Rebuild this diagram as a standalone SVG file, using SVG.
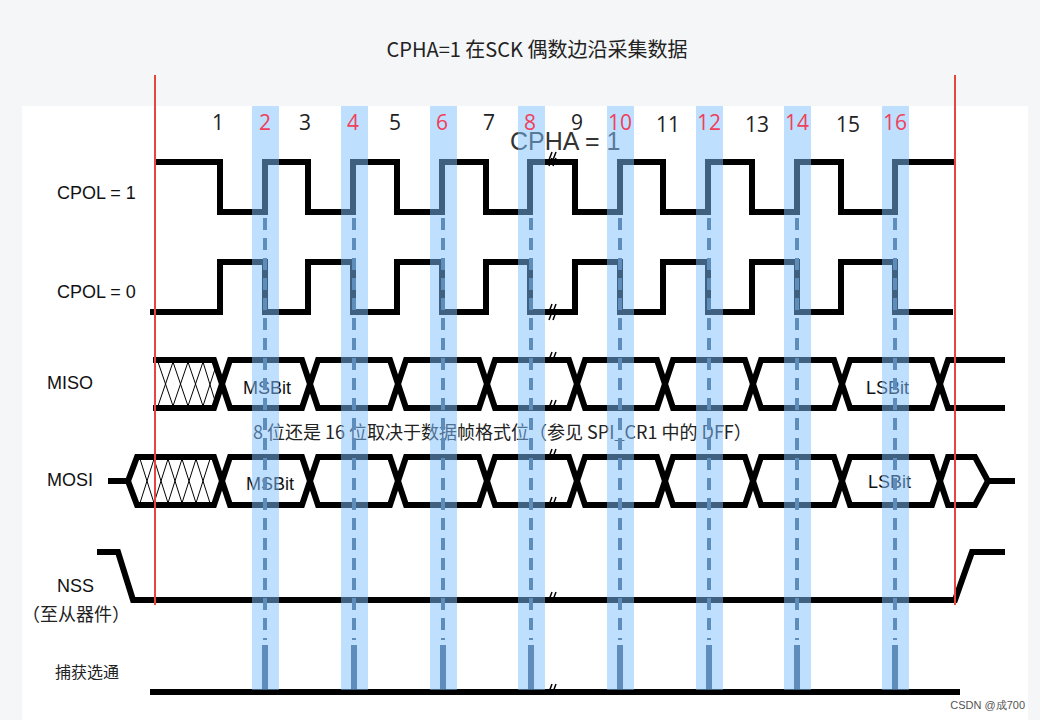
<svg xmlns="http://www.w3.org/2000/svg" width="1040" height="720" viewBox="0 0 1040 720">
<style>
.sig{fill:none;stroke:#000;stroke-width:6;stroke-linejoin:miter}
.hat{fill:none;stroke:#000;stroke-width:1}
.lab{font-family:"Liberation Sans",Arial,sans-serif;font-size:18px;fill:#111}
.cn{font-family:"Noto Sans CJK SC","Liberation Sans",sans-serif;fill:#222}
.num{font-family:"Open Sans","Liberation Sans",sans-serif;font-size:21px;fill:#222;text-anchor:middle}
.red{fill:#f0405a}
.band{fill:#80c0ff;opacity:0.5}
.dash{stroke:#3d5a78;stroke-width:4;stroke-dasharray:12 8}
.bar{fill:#3d5a78}
.brk{stroke:#000;stroke-width:1.5}
</style>
<rect width="1040" height="720" fill="#f5f6f8"/>
<rect x="22" y="106" width="1006" height="614" fill="#fff"/>
<text x="537" y="57" text-anchor="middle" class="cn" font-size="20">CPHA=1 在SCK 偶数边沿采集数据</text>

<g id="labels">
<text x="57" y="199" class="lab">CPOL = 1</text>
<text x="57" y="298" class="lab">CPOL = 0</text>
<text x="47" y="389" class="lab">MISO</text>
<text x="47" y="486" class="lab">MOSI</text>
<text x="57" y="592" class="lab">NSS</text>
<text x="22" y="621" class="cn" font-size="18" fill="#444">（至从器件）</text>
<text x="55" y="678" class="cn" font-size="16" fill="#444">捕获选通</text>
<text x="510" y="150" font-family="Liberation Sans,Arial,sans-serif" font-size="25" fill="#333">CPHA = 1</text>
</g>

<g id="connectors">
<path class="sig" d="M155,162 H220 V212 H265 V162 H308 V212 H353 V162 H397 V212 H442 V162 H486 V212 H530 V162 H575 V212 H620 V162 H663 V212 H708 V162 H752 V212 H797 V162 H841 V212 H895 V162 H955"/>
<path class="sig" d="M150,312 H220 V262 H265 V312 H308 V262 H353 V312 H397 V262 H442 V312 H486 V262 H530 V312 H575 V262 H620 V312 H663 V262 H708 V312 H752 V262 H797 V312 H841 V262 H895 V312 H953"/>
<path class="sig" d="M153,360 H214 L230,408 H302 L318,360 H390 L406,408 H479 L495,360 H569 L585,408 H657 L673,360 H745 L761,408 H834 L850,360 H932 L948,408 H1005"/>
<path class="sig" d="M153,408 H214 L230,360 H302 L318,408 H390 L406,360 H479 L495,408 H569 L585,360 H657 L673,408 H745 L761,360 H834 L850,408 H932 L948,360 H1005"/>
<path class="hat" d="M158,362 L173,406 M173,362 L188,406 M188,362 L203,406 M203,362 L216,404 M158,406 L173,362 M173,406 L188,362 M188,406 L203,362 M203,406 L216,366"/>
<path class="sig" d="M108,481 H128 L137,457 H214 L230,505 H302 L318,457 H390 L406,505 H479 L495,457 H569 L585,505 H657 L673,457 H745 L761,505 H834 L850,457 H932 L948,505 H975 L988,481 H1015"/>
<path class="sig" d="M128,481 L137,505 H214 L230,457 H302 L318,505 H390 L406,457 H479 L495,505 H569 L585,457 H657 L673,505 H745 L761,457 H834 L850,505 H932 L948,457 H975 L988,481"/>
<path class="hat" d="M140,459 L154,503 M154,459 L168,503 M168,459 L182,503 M182,459 L196,503 M196,459 L210,503 M140,503 L154,459 M154,503 L168,459 M168,503 L182,459 M182,503 L196,459 M196,503 L210,459"/>
<path class="sig" d="M97,552 H118 L133,600 H955 L972,552 H1005" stroke-width="5"/>
<path class="sig" d="M150,692 H960" stroke-width="7"/>
<line x1="155" y1="75" x2="155" y2="605" stroke="#e8453c" stroke-width="2"/>
<line x1="955" y1="75" x2="955" y2="605" stroke="#e8453c" stroke-width="2"/>
<path class="brk" d="M549,160 l3,-8 M553,160 l3,-8 M549,166 l3,-8 M553,166 l3,-8 M549,312 l3,-8 M553,312 l3,-8 M549,320 l3,-8 M553,320 l3,-8 M549,360 l3,-8 M553,360 l3,-8 M549,408 l3,-8 M553,408 l3,-8 M549,457 l3,-8 M553,457 l3,-8 M549,505 l3,-8 M553,505 l3,-8 M549,600 l3,-8 M553,600 l3,-8 M549,692 l3,-8 M553,692 l3,-8"/>
</g>

<g id="data-text">
<text x="243" y="394" class="lab" font-size="19">MSBit</text>
<text x="866" y="394" class="lab" font-size="19">LSBit</text>
<text x="246" y="490" class="lab" font-size="19">MSBit</text>
<text x="868" y="488" class="lab" font-size="19">LSBit</text>
<text x="253" y="439" class="cn" font-size="18" fill="#555">8 位还是 16 位取决于数据帧格式位（参见 SPI_CR1 中的 DFF）</text>
</g>

<g id="strobes">
<g class="dash">
<line x1="265" y1="218" x2="265" y2="640"/><line x1="354" y1="218" x2="354" y2="640"/>
<line x1="443" y1="218" x2="443" y2="640"/><line x1="531" y1="218" x2="531" y2="640"/>
<line x1="620" y1="218" x2="620" y2="640"/><line x1="709" y1="218" x2="709" y2="640"/>
<line x1="797" y1="218" x2="797" y2="640"/><line x1="895" y1="218" x2="895" y2="640"/>
</g>
<rect x="262" y="645" width="6" height="44" class="bar"/><rect x="351" y="645" width="6" height="44" class="bar"/>
<rect x="440" y="645" width="6" height="44" class="bar"/><rect x="528" y="645" width="6" height="44" class="bar"/>
<rect x="617" y="645" width="6" height="44" class="bar"/><rect x="706" y="645" width="6" height="44" class="bar"/>
<rect x="794" y="645" width="6" height="44" class="bar"/><rect x="892" y="645" width="6" height="44" class="bar"/>
<rect x="252" y="106" width="27" height="584" class="band"/><rect x="341" y="106" width="27" height="584" class="band"/>
<rect x="430" y="106" width="27" height="584" class="band"/><rect x="518" y="106" width="27" height="584" class="band"/>
<rect x="607" y="106" width="27" height="584" class="band"/><rect x="696" y="106" width="27" height="584" class="band"/>
<rect x="784" y="106" width="27" height="584" class="band"/><rect x="882" y="106" width="27" height="584" class="band"/>
</g>

<g id="numbers">
<text x="218" y="130" class="num">1</text><text x="265" y="130" class="num red">2</text>
<text x="305" y="130" class="num">3</text><text x="353" y="130" class="num red">4</text>
<text x="395" y="130" class="num">5</text><text x="442" y="130" class="num red">6</text>
<text x="489" y="130" class="num">7</text><text x="530" y="130" class="num red">8</text>
<text x="577" y="130" class="num">9</text><text x="620" y="130" class="num red">10</text>
<text x="668" y="132" class="num">11</text><text x="709" y="130" class="num red">12</text>
<text x="757" y="132" class="num">13</text><text x="797" y="130" class="num red">14</text>
<text x="848" y="132" class="num">15</text><text x="895" y="130" class="num red">16</text>
</g>
<text x="1025" y="709" text-anchor="end" font-family="Liberation Sans,Arial,sans-serif" font-size="11" fill="#555">CSDN @成700</text>
</svg>
